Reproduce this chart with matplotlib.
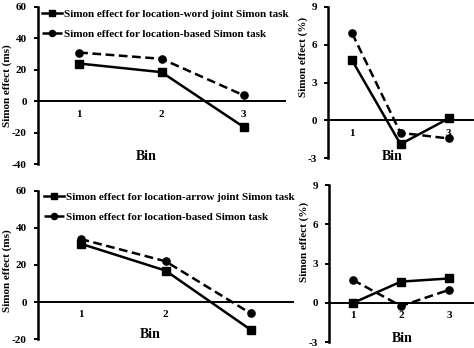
import matplotlib
matplotlib.use("Agg")
import matplotlib.pyplot as plt

plt.rcParams['font.family'] = ['Liberation Serif', 'DejaVu Serif']
plt.rcParams['font.weight'] = 'bold'

bins = [1, 2, 3]
bin_labels = ["1", "2", "3"]

# Top row: location-word joint Simon task
word_rt = [24, 18.5, -16.5]
based_rt_top = [31, 27, 3.7]
word_err = [4.75, -1.9, 0.15]
based_err_top = [6.9, -1.0, -1.45]

# Bottom row: location-arrow joint Simon task
arrow_rt = [31.5, 17, -14.8]
based_rt_bot = [34, 22, -6]
arrow_err = [0.0, 1.63, 1.87]
based_err_bot = [1.75, -0.23, 1.0]

legend_top = ["Simon effect for location-word joint Simon task",
              "Simon effect for location-based Simon task"]
legend_bot = ["Simon effect for location-arrow joint Simon task",
              "Simon effect for location-based Simon task"]

W, H = 474, 348
fig = plt.figure(figsize=(W / 100, H / 100), dpi=100)


def rect(x0, x1, ytop, ybot):
    return [x0 / W, 1 - ybot / H, (x1 - x0) / W, (ybot - ytop) / H]


def fx(x):
    return x / W


def fy(y):
    return 1 - y / H


def setup(ax, ylim, yticks):
    ax.set_xlim(0.5, 3.5)
    ax.set_ylim(*ylim)
    ax.set_yticks(yticks)
    ax.set_yticklabels([str(t) for t in yticks])
    ax.set_xticks(bins)
    ax.set_xticklabels(bin_labels)
    for s in ['top', 'right']:
        ax.spines[s].set_visible(False)
    ax.spines['bottom'].set_position(('data', 0))
    ax.spines['left'].set_linewidth(1.8)
    ax.spines['bottom'].set_linewidth(1.4)
    ax.tick_params(axis='y', direction='out', length=3, width=1.4, labelsize=8, pad=5)
    ax.tick_params(axis='x', length=0, labelsize=8, pad=6)
    for lab in ax.get_xticklabels() + ax.get_yticklabels():
        lab.set_fontweight('bold')


def draw(ax, solid, dashed):
    l1, = ax.plot(bins, solid, color='black', lw=1.8, marker='s', ms=5.2,
                  zorder=3, clip_on=False)
    l2, = ax.plot(bins, dashed, color='black', lw=1.8, ls=(0, (3.5, 1.8)), marker='o',
                  ms=5.2, zorder=3, clip_on=False)
    return l1, l2


def legend(ax, h, labels, anchor):
    leg = ax.legend(h, labels, loc='upper left', bbox_to_anchor=anchor,
                    bbox_transform=fig.transFigure, frameon=False, fontsize=8,
                    handlelength=1.8, handletextpad=0.15, labelspacing=0.95,
                    borderpad=0, borderaxespad=0, markerscale=0.85)
    for t in leg.get_texts():
        t.set_fontweight('bold')


ax1 = fig.add_axes(rect(38, 285, 7, 164))
setup(ax1, (-40, 60), [-40, -20, 0, 20, 40, 60])
h = draw(ax1, word_rt, based_rt_top)
legend(ax1, h, legend_top, (fx(42), fy(9)))

ax2 = fig.add_axes(rect(328, 473, 7, 158))
setup(ax2, (-3, 9), [-3, 0, 3, 6, 9])
draw(ax2, word_err, based_err_top)

ax3 = fig.add_axes(rect(38, 293, 190.7, 339.3))
setup(ax3, (-20, 60), [-20, 0, 20, 40, 60])
h = draw(ax3, arrow_rt, based_rt_bot)
legend(ax3, h, legend_bot, (fx(44), fy(192)))

ax4 = fig.add_axes(rect(329, 473, 185, 342.3))
setup(ax4, (-3, 9), [-3, 0, 3, 6, 9])
draw(ax4, arrow_err, based_err_bot)

# Axis labels
fig.text(fx(7), fy(86), "Simon effect (ms)", rotation=90, ha='center', va='center',
         fontsize=8, fontweight='bold')
fig.text(fx(303), fy(57), "Simon effect (%)", rotation=90, ha='center', va='center',
         fontsize=8, fontweight='bold')
fig.text(fx(7), fy(271), "Simon effect (ms)", rotation=90, ha='center', va='center',
         fontsize=8, fontweight='bold')
fig.text(fx(304), fy(242), "Simon effect (%)", rotation=90, ha='center', va='center',
         fontsize=8, fontweight='bold')

fig.text(fx(146), fy(156), "Bin", ha='center', va='center', fontsize=10, fontweight='bold')
fig.text(fx(392), fy(156), "Bin", ha='center', va='center', fontsize=10, fontweight='bold')
fig.text(fx(150), fy(334), "Bin", ha='center', va='center', fontsize=10, fontweight='bold')
fig.text(fx(402), fy(338), "Bin", ha='center', va='center', fontsize=10, fontweight='bold')

fig.savefig("out.png", dpi=100)
